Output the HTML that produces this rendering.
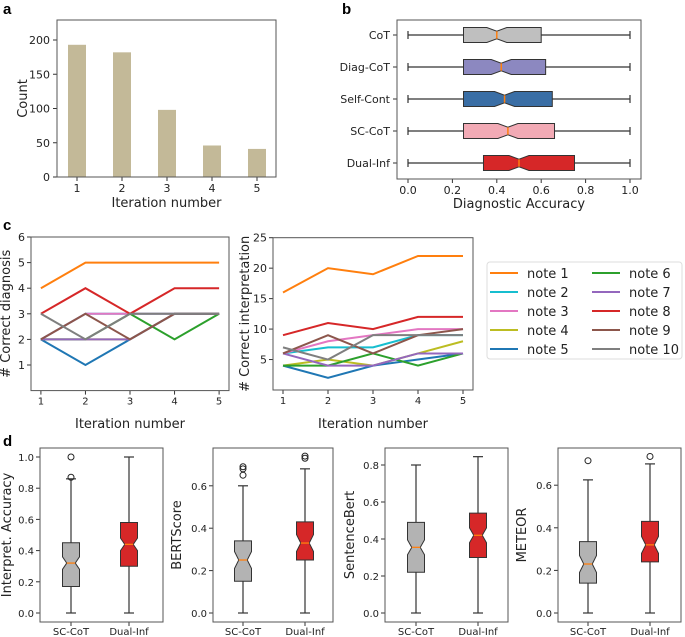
<!DOCTYPE html>
<html><head><meta charset="utf-8"><style>
html,body{margin:0;padding:0;background:#fff;}
svg{display:block;font-family:"DejaVu Sans","Liberation Sans",sans-serif;}
</style></head><body>
<svg id="fig" width="685" height="637" viewBox="0 0 685 637" xmlns="http://www.w3.org/2000/svg">
<text x="3" y="14" font-size="15" font-weight="bold" font-family="Liberation Sans, sans-serif">a</text>
<text x="342" y="14" font-size="15" font-weight="bold" font-family="Liberation Sans, sans-serif">b</text>
<text x="3" y="230" font-size="15" font-weight="bold" font-family="Liberation Sans, sans-serif">c</text>
<text x="3" y="446" font-size="15" font-weight="bold" font-family="Liberation Sans, sans-serif">d</text>
</svg>
<script>
// ---- Panel a data ----
const aCategories = [1, 2, 3, 4, 5];
const aCounts = [193, 182, 98, 46, 41];
const aTicks = [0, 50, 100, 150, 200];
// ---- Panel b data ----
const bMethods = ["CoT", "Diag-CoT", "Self-Cont", "SC-CoT", "Dual-Inf"];
const bWhiskLo = [0, 0, 0, 0, 0];
const bQ1 = [0.25, 0.25, 0.25, 0.25, 0.34];
const bMedian = [0.40, 0.42, 0.435, 0.45, 0.50];
const bQ3 = [0.60, 0.62, 0.65, 0.66, 0.75];
const bWhiskHi = [1, 1, 1, 1, 1];
const bColors = ["#bfbfbf", "#8c88c0", "#3a6ea5", "#f2aab5", "#d62728"];
const bTicks = [0, 0.2, 0.4, 0.6, 0.8, 1.0];
// ---- Panel c data ----
const cIterations = [1, 2, 3, 4, 5];
const cNotes = ["note 1","note 2","note 3","note 4","note 5","note 6","note 7","note 8","note 9","note 10"];
const cColors = ["#ff7f0e","#17becf","#e377c2","#bcbd22","#1f77b4","#2ca02c","#9467bd","#d62728","#8c564b","#7f7f7f"];
const cDiagnosis = [
 [4,5,5,5,5],[2,3,3,3,3],[2,3,3,3,3],[2,2,2,3,3],[2,1,2,3,3],
 [2,2,3,2,3],[2,2,2,3,3],[3,4,3,4,4],[2,3,2,3,3],[3,2,3,3,3]];
const cInterpretation = [
 [16,20,19,22,22],[6,7,7,9,9],[6,8,9,10,10],[4,5,4,6,8],[4,2,4,5,6],
 [4,4,6,4,6],[6,4,4,6,6],[9,11,10,12,12],[6,9,6,9,10],[7,5,9,9,9]];
const cDiagTicks = [1,2,3,4,5,6];
const cInterpTicks = [5,10,15,20,25];
// ---- Panel d data ----
const dMetrics = ["Interpret. Accuracy", "BERTScore", "SentenceBert", "METEOR"];
const dGroups = ["SC-CoT", "Dual-Inf"];
const dWhiskLo = [[0,0],[0,0],[0,0],[0,0]];
const dQ1 = [[0.17,0.30],[0.15,0.25],[0.22,0.30],[0.14,0.24]];
const dMedian = [[0.32,0.44],[0.25,0.33],[0.355,0.42],[0.23,0.32]];
const dQ3 = [[0.45,0.58],[0.34,0.43],[0.49,0.54],[0.335,0.43]];
const dWhiskHi = [[0.86,1.0],[0.60,0.68],[0.80,0.845],[0.625,0.70]];
const dOutliers = [[[0.87,1.0],[]],[[0.65,0.68,0.69],[0.73,0.74]],[[],[]],[[0.715],[0.735]]];
const dTicks = [[0,0.2,0.4,0.6,0.8,1.0],[0,0.2,0.4,0.6],[0,0.2,0.4,0.6,0.8],[0,0.2,0.4,0.6]];
const dGroupColors = ["#b3b3b3", "#d62728"];

const NS = "http://www.w3.org/2000/svg";
const svg = document.getElementById("fig");
function mk(tag, attrs, parent){
  const e = document.createElementNS(NS, tag);
  for (const k in attrs) e.setAttribute(k, attrs[k]);
  (parent || svg).appendChild(e);
  return e;
}
function txt(x, y, s, size, anchor, parent, extra){
  const t = mk("text", Object.assign({x:x, y:y, "font-size":size, "text-anchor":anchor||"middle", fill:"#222"}, extra||{}), parent);
  t.textContent = s;
  return t;
}
function fmt1(v){ return v.toFixed(1); }

// ===== Panel a =====
(function(){
  const L=57,R=276,T=20,B=177;
  const g = mk("g", {});
  
  
  const yS = v => B - v*(137/200);
  const xS = c => 77 + (c-1)*45;
  aCategories.forEach((c,i)=>{
    const r = mk("rect",{x:xS(c)-9,y:yS(aCounts[i]),width:18,height:B-yS(aCounts[i]),fill:"#c3b998"},g);
    
    
    mk("line",{x1:xS(c),x2:xS(c),y1:B,y2:B+4,stroke:"#333"},g);
    txt(xS(c),B+15,String(c),11,"middle",g);
  });
  aTicks.forEach(v=>{
    mk("line",{x1:L-4,x2:L,y1:yS(v),y2:yS(v),stroke:"#333"},g);
    txt(L-7,yS(v)+4,String(v),11,"end",g);
  });
  const f = mk("rect",{x:L,y:T,width:R-L,height:B-T,fill:"none",stroke:"#555"},g);
  
  
  const xl = txt((L+R)/2,207,"Iteration number",13,"middle",g);
  
  
  const yl = txt(0,0,"Count",13,"middle",g,{transform:"translate(27,"+((T+B)/2)+") rotate(-90)"});
  
  
})();

// ===== Panel b =====
(function(){
  const L=397,R=641,T=20,B=179;
  const g = mk("g", {});
  
  
  const xS = v => 408 + v*222;
  const rowY = i => 35 + i*32;
  const h = 7.5, nw = 0.045;
  bMethods.forEach((m,i)=>{
    const y = rowY(i);
    const bg = mk("g",{},g);
    
    
    mk("line",{x1:xS(bWhiskLo[i]),x2:xS(bQ1[i]),y1:y,y2:y,stroke:"#333","stroke-width":1.2},bg);
    mk("line",{x1:xS(bQ3[i]),x2:xS(bWhiskHi[i]),y1:y,y2:y,stroke:"#333","stroke-width":1.2},bg);
    mk("line",{x1:xS(bWhiskLo[i]),x2:xS(bWhiskLo[i]),y1:y-4,y2:y+4,stroke:"#333","stroke-width":1.2},bg);
    mk("line",{x1:xS(bWhiskHi[i]),x2:xS(bWhiskHi[i]),y1:y-4,y2:y+4,stroke:"#333","stroke-width":1.2},bg);
    const q1=xS(bQ1[i]), q3=xS(bQ3[i]), md=xS(bMedian[i]), n1=xS(bMedian[i]-nw), n2=xS(bMedian[i]+nw);
    const p = `M${q1},${y-h} L${n1},${y-h} L${md},${y-h/2} L${n2},${y-h} L${q3},${y-h} L${q3},${y+h} L${n2},${y+h} L${md},${y+h/2} L${n1},${y+h} L${q1},${y+h} Z`;
    mk("path",{d:p,fill:bColors[i],stroke:"#333","stroke-width":1},bg);
    mk("line",{x1:md,x2:md,y1:y-h/2,y2:y+h/2,stroke:"#ff7f0e","stroke-width":1.5},bg);
    mk("line",{x1:L-4,x2:L,y1:y,y2:y,stroke:"#333"},g);
    txt(L-7,y+4,m,11,"end",g);
  });
  bTicks.forEach(v=>{
    mk("line",{x1:xS(v),x2:xS(v),y1:B,y2:B+4,stroke:"#333"},g);
    txt(xS(v),B+15,fmt1(v),11,"middle",g);
  });
  const f = mk("rect",{x:L,y:T,width:R-L,height:B-T,fill:"none",stroke:"#555"},g);
  
  
  const xl = txt((L+R)/2,208,"Diagnostic Accuracy",13,"middle",g);
  
  
})();

// ===== Panel c =====
function lineChart(L,R,T,B,yMax,series,ticks,ylabel,name,labelX){
  const g = mk("g", {});
  
  
  const x1 = L + (R-L)*0.05, x5 = R - (R-L)*0.05;
  const xS = c => x1 + (c-1)*(x5-x1)/4;
  const yS = v => B - v*(B-T)/yMax;
  series.forEach((s,i)=>{
    const pts = s.map((v,j)=>xS(cIterations[j])+","+yS(v)).join(" ");
    const pl = mk("polyline",{points:pts,fill:"none",stroke:cColors[i],"stroke-width":2},g);
    
    
  });
  ticks.forEach(v=>{
    mk("line",{x1:L-4,x2:L,y1:yS(v),y2:yS(v),stroke:"#333"},g);
    txt(L-6,yS(v)+4,String(v),11,"end",g);
  });
  cIterations.forEach(c=>{
    mk("line",{x1:xS(c),x2:xS(c),y1:B,y2:B+4,stroke:"#333"},g);
    txt(xS(c),B+14,String(c),10,"middle",g);
  });
  mk("rect",{x:L,y:T,width:R-L,height:B-T,fill:"none",stroke:"#555"},g);
  const xl = txt((L+R)/2,428,"Iteration number",13,"middle",g);
  
  
  const yl = txt(0,0,ylabel,13,"middle",g,{transform:"translate("+labelX+","+((T+B)/2)+") rotate(-90)"});
  
  
}
lineChart(31,229,237,390.6,6,cDiagnosis,cDiagTicks,"# Correct diagnosis","correct-diagnosis-chart",10);
lineChart(273,473,237.7,390,25,cInterpretation,cInterpTicks,"# Correct interpretation","correct-interpretation-chart",249);

// legend
(function(){
  const g = mk("g", {});
  
  
  mk("rect",{x:487,y:262,width:195,height:97,rx:3,fill:"#fff",stroke:"#ddd"},g);
  cNotes.forEach((n,i)=>{
    const col = Math.floor(i/5), row = i%5;
    const lx = col ? 592 : 490, y = 273 + row*19;
    const eg = mk("g",{},g);
    
    
    mk("line",{x1:lx,x2:lx+28,y1:y,y2:y,stroke:cColors[i],"stroke-width":2},eg);
    txt(lx+37,y+5,n,13,"start",eg);
  });
})();

// ===== Panel d =====
const dFrames = [[40,163],[213,333],[385,508],[558,681]];
const dScale = [156,212,185,213];
const dGroupX = [[71,129],[243,305],[416,478],[588,650]];
const dLabelX = [11,181,354,526];
dMetrics.forEach((m,k)=>{
  const L=dFrames[k][0], R=dFrames[k][1], T=448, B=622, Y0=613, sc=dScale[k];
  const g = mk("g", {});
  
  
  const yS = v => Y0 - v*sc;
  const hw = 8.5, nw = 0.04;
  dGroups.forEach((grp,j)=>{
    const x = dGroupX[k][j];
    const bg = mk("g",{},g);
    
    
    mk("line",{x1:x,x2:x,y1:yS(dWhiskLo[k][j]),y2:yS(dQ1[k][j]),stroke:"#333","stroke-width":1.2},bg);
    mk("line",{x1:x,x2:x,y1:yS(dQ3[k][j]),y2:yS(dWhiskHi[k][j]),stroke:"#333","stroke-width":1.2},bg);
    mk("line",{x1:x-5,x2:x+5,y1:yS(dWhiskLo[k][j]),y2:yS(dWhiskLo[k][j]),stroke:"#333","stroke-width":1.2},bg);
    mk("line",{x1:x-5,x2:x+5,y1:yS(dWhiskHi[k][j]),y2:yS(dWhiskHi[k][j]),stroke:"#333","stroke-width":1.2},bg);
    const q1=yS(dQ1[k][j]), q3=yS(dQ3[k][j]), md=yS(dMedian[k][j]);
    const n1=yS(dMedian[k][j]-nw), n2=yS(dMedian[k][j]+nw);
    const p = `M${x-hw},${q1} L${x-hw},${n1} L${x-hw/2},${md} L${x-hw},${n2} L${x-hw},${q3} L${x+hw},${q3} L${x+hw},${n2} L${x+hw/2},${md} L${x+hw},${n1} L${x+hw},${q1} Z`;
    mk("path",{d:p,fill:dGroupColors[j],stroke:"#333","stroke-width":1},bg);
    mk("line",{x1:x-hw/2,x2:x+hw/2,y1:md,y2:md,stroke:"#ff7f0e","stroke-width":1.3},bg);
    dOutliers[k][j].forEach(o=>{
      const c = mk("circle",{cx:x,cy:yS(o),r:3,fill:"none",stroke:"#222","stroke-width":1},bg);
      
      
    });
    mk("line",{x1:x,x2:x,y1:B,y2:B+4,stroke:"#333"},g);
    txt(x,B+13,grp,10,"middle",g);
  });
  dTicks[k].forEach(v=>{
    mk("line",{x1:L-4,x2:L,y1:yS(v),y2:yS(v),stroke:"#333"},g);
    txt(L-6,yS(v)+4,fmt1(v),10,"end",g);
  });
  mk("rect",{x:L,y:T,width:R-L,height:B-T,fill:"none",stroke:"#555"},g);
  const yl = txt(0,0,m,13,"middle",g,{transform:"translate("+dLabelX[k]+","+((T+B)/2)+") rotate(-90)"});
  
  
});
</script>
</body></html>
